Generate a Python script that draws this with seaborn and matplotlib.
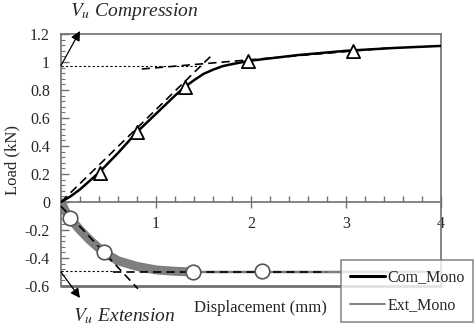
import matplotlib
matplotlib.use("Agg")
import matplotlib.pyplot as plt
import seaborn as sns
import numpy as np
import pandas as pd
from matplotlib.lines import Line2D

# ---- data ----
com_x = [0.0, 0.1, 0.2, 0.4, 0.6, 0.8, 1.0, 1.2, 1.3, 1.4, 1.5, 1.6, 1.7, 1.8, 2.0, 2.5, 3.0, 3.5, 4.0]
com_y = [0.0, 0.04, 0.09, 0.21, 0.35, 0.50, 0.63, 0.76, 0.82, 0.87, 0.915, 0.945, 0.97, 0.985, 1.01, 1.05, 1.08, 1.10, 1.115]
com_mx = [0.41, 0.80, 1.31, 1.97, 3.07]
com_my = [0.21, 0.50, 0.82, 1.01, 1.08]

ext_x = [0.0, 0.05, 0.1, 0.2, 0.3, 0.45, 0.6, 0.8, 1.0, 1.2, 1.4, 1.7, 2.0, 3.0, 4.0]
ext_y = [0.0, -0.07, -0.12, -0.20, -0.27, -0.36, -0.42, -0.46, -0.485, -0.495, -0.50, -0.50, -0.50, -0.50, -0.50]
ext_mx = [0.09, 0.45, 1.39, 2.12]
ext_my = [-0.115, -0.36, -0.50, -0.495]

# tangent / yield construction lines (x, y pairs)
com_init_x = [0.0, 1.59]
com_init_y = [0.0, 1.05]
com_post_x = [0.85, 3.44]
com_post_y = [0.95, 1.10]
com_vu_x = [0.0, 1.48]
com_vu_y = [0.975, 0.975]
ext_init_x = [0.0, 0.81]
ext_init_y = [-0.03, -0.62]
ext_post_x = [0.55, 2.8]
ext_post_y = [-0.50, -0.50]
ext_vu_x = [0.0, 0.55]
ext_vu_y = [-0.49, -0.49]

xticks = [0, 1, 2, 3, 4]
xticklabels = ["", "1", "2", "3", "4"]
yticks = [-0.6, -0.4, -0.2, 0, 0.2, 0.4, 0.6, 0.8, 1.0, 1.2]
yticklabels = ["-0.6", "-0.4", "-0.2", "0", "0.2", "0.4", "0.6", "0.8", "1", "1.2"]

sns.set_theme(style="white")
plt.rcParams["font.family"] = ["Liberation Serif", "DejaVu Serif"]
plt.rcParams["mathtext.fontset"] = "stix"

W, H = 474, 329
fig = plt.figure(figsize=(W / 100, H / 100), dpi=100)
ax = fig.add_axes([61 / W, 1 - 286 / H, (441 - 61) / W, (286 - 34) / H])

gray = "#707070"
ext_col = "#7f7f7f"

# gray thick noisy band portion
band_n = 11
ax.plot(ext_x[:band_n], ext_y[:band_n], color=ext_col, lw=6.5, solid_capstyle="butt", zorder=2)
sns.lineplot(x=ext_x, y=ext_y, ax=ax, color=ext_col, lw=1.8, label="Ext_Mono", zorder=3, sort=False)
sns.lineplot(x=com_x, y=com_y, ax=ax, color="black", lw=1.8, label="Com_Mono", zorder=4, sort=False)

# construction lines
ax.plot(com_init_x, com_init_y, color="black", lw=1.2, ls=(0, (5, 3)), zorder=5)
ax.plot(com_post_x, com_post_y, color="black", lw=1.2, ls=(0, (5, 3)), zorder=5)
ax.plot(com_vu_x, com_vu_y, color="black", lw=0.8, ls=(0, (2, 2)), zorder=5)
ax.plot(ext_init_x, ext_init_y, color="black", lw=1.2, ls=(0, (5, 3)), zorder=5, clip_on=False)
ax.plot(ext_post_x, ext_post_y, color="black", lw=1.2, ls=(0, (5, 3)), zorder=5)
ax.plot(ext_vu_x, ext_vu_y, color="black", lw=0.8, ls=(0, (2, 2)), zorder=5)

# markers
sns.scatterplot(x=com_mx, y=com_my, ax=ax, marker="^", s=90, facecolor="white",
                edgecolor="black", linewidth=1.3, zorder=6)
sns.scatterplot(x=ext_mx, y=ext_my, ax=ax, marker="o", s=110, facecolor="white",
                edgecolor="#555555", linewidth=1.2, zorder=6)

ax.set_xlim(0, 4)
ax.set_ylim(-0.6, 1.2)

# axes styling
for s in ["top", "right", "left"]:
    ax.spines[s].set_color(gray)
    ax.spines[s].set_linewidth(1.2)
ax.spines["bottom"].set_position(("data", 0))
ax.spines["bottom"].set_color(gray)
ax.spines["bottom"].set_linewidth(1.2)
ax.axhline(-0.6, color=gray, lw=2.0, zorder=1, clip_on=False)

ax.set_xticks(xticks)
ax.set_xticklabels(xticklabels)
ax.set_yticks(yticks)
ax.set_yticklabels(yticklabels)
ax.set_xticks(np.arange(0, 4.01, 0.2), minor=True)
ax.set_yticks(np.arange(-0.6, 1.201, 0.04), minor=True)
ax.tick_params(axis="x", which="major", direction="inout", length=8, width=1, color=gray,
               labelsize=11.5, pad=6, bottom=True)
ax.tick_params(axis="x", which="minor", direction="in", length=4, width=1, color=gray, bottom=True)
ax.tick_params(axis="y", which="major", direction="in", length=6, width=1, color=gray,
               labelsize=11.5, pad=8, left=True)
ax.tick_params(axis="y", which="minor", direction="in", length=3, width=0.8, color=gray, left=True)
ax.set_xlabel("")
ax.set_ylabel("")

fig.text(12 / W, 1 - 160 / H, "Load (kN)", rotation=90, ha="center", va="center", fontsize=12)
fig.text(260 / W, 1 - 308 / H, "Displacement (mm)", ha="center", va="center", fontsize=12)

fig.text(70 / W, 1 - 12 / H, r"$V_u$ Compression", ha="left", va="center", fontsize=14, style="italic")
fig.text(73 / W, 1 - 316 / H, r"$V_u$ Extension", ha="left", va="center", fontsize=14, style="italic")

ax.annotate("", xy=(80 / W, 1 - 31 / H), xycoords="figure fraction",
            xytext=(0.0, 0.975), textcoords="data",
            arrowprops=dict(arrowstyle="-|>", color="black", lw=0.9, mutation_scale=14,
                            shrinkA=0, shrinkB=0), annotation_clip=False)
ax.annotate("", xy=(80 / W, 1 - 298 / H), xycoords="figure fraction",
            xytext=(0.0, -0.5), textcoords="data",
            arrowprops=dict(arrowstyle="-|>", color="black", lw=0.9, mutation_scale=14,
                            shrinkA=0, shrinkB=0), annotation_clip=False)

# legend
if ax.get_legend() is not None:
    ax.get_legend().remove()
h = [Line2D([], [], color="black", lw=2.2), Line2D([], [], color=ext_col, lw=1.4)]
leg = fig.legend(h, ["Com_Mono", "Ext_Mono"], loc="lower left",
                 bbox_to_anchor=(341 / W, 1 - 322 / H),
                 fontsize=11.5, frameon=True, fancybox=False,
                 edgecolor=gray, handlelength=2.2, handletextpad=0.15,
                 borderpad=0.55, labelspacing=0.75, borderaxespad=0)
leg.get_frame().set_linewidth(1.2)
leg.set_zorder(10)

fig.savefig("out.png", dpi=100)
